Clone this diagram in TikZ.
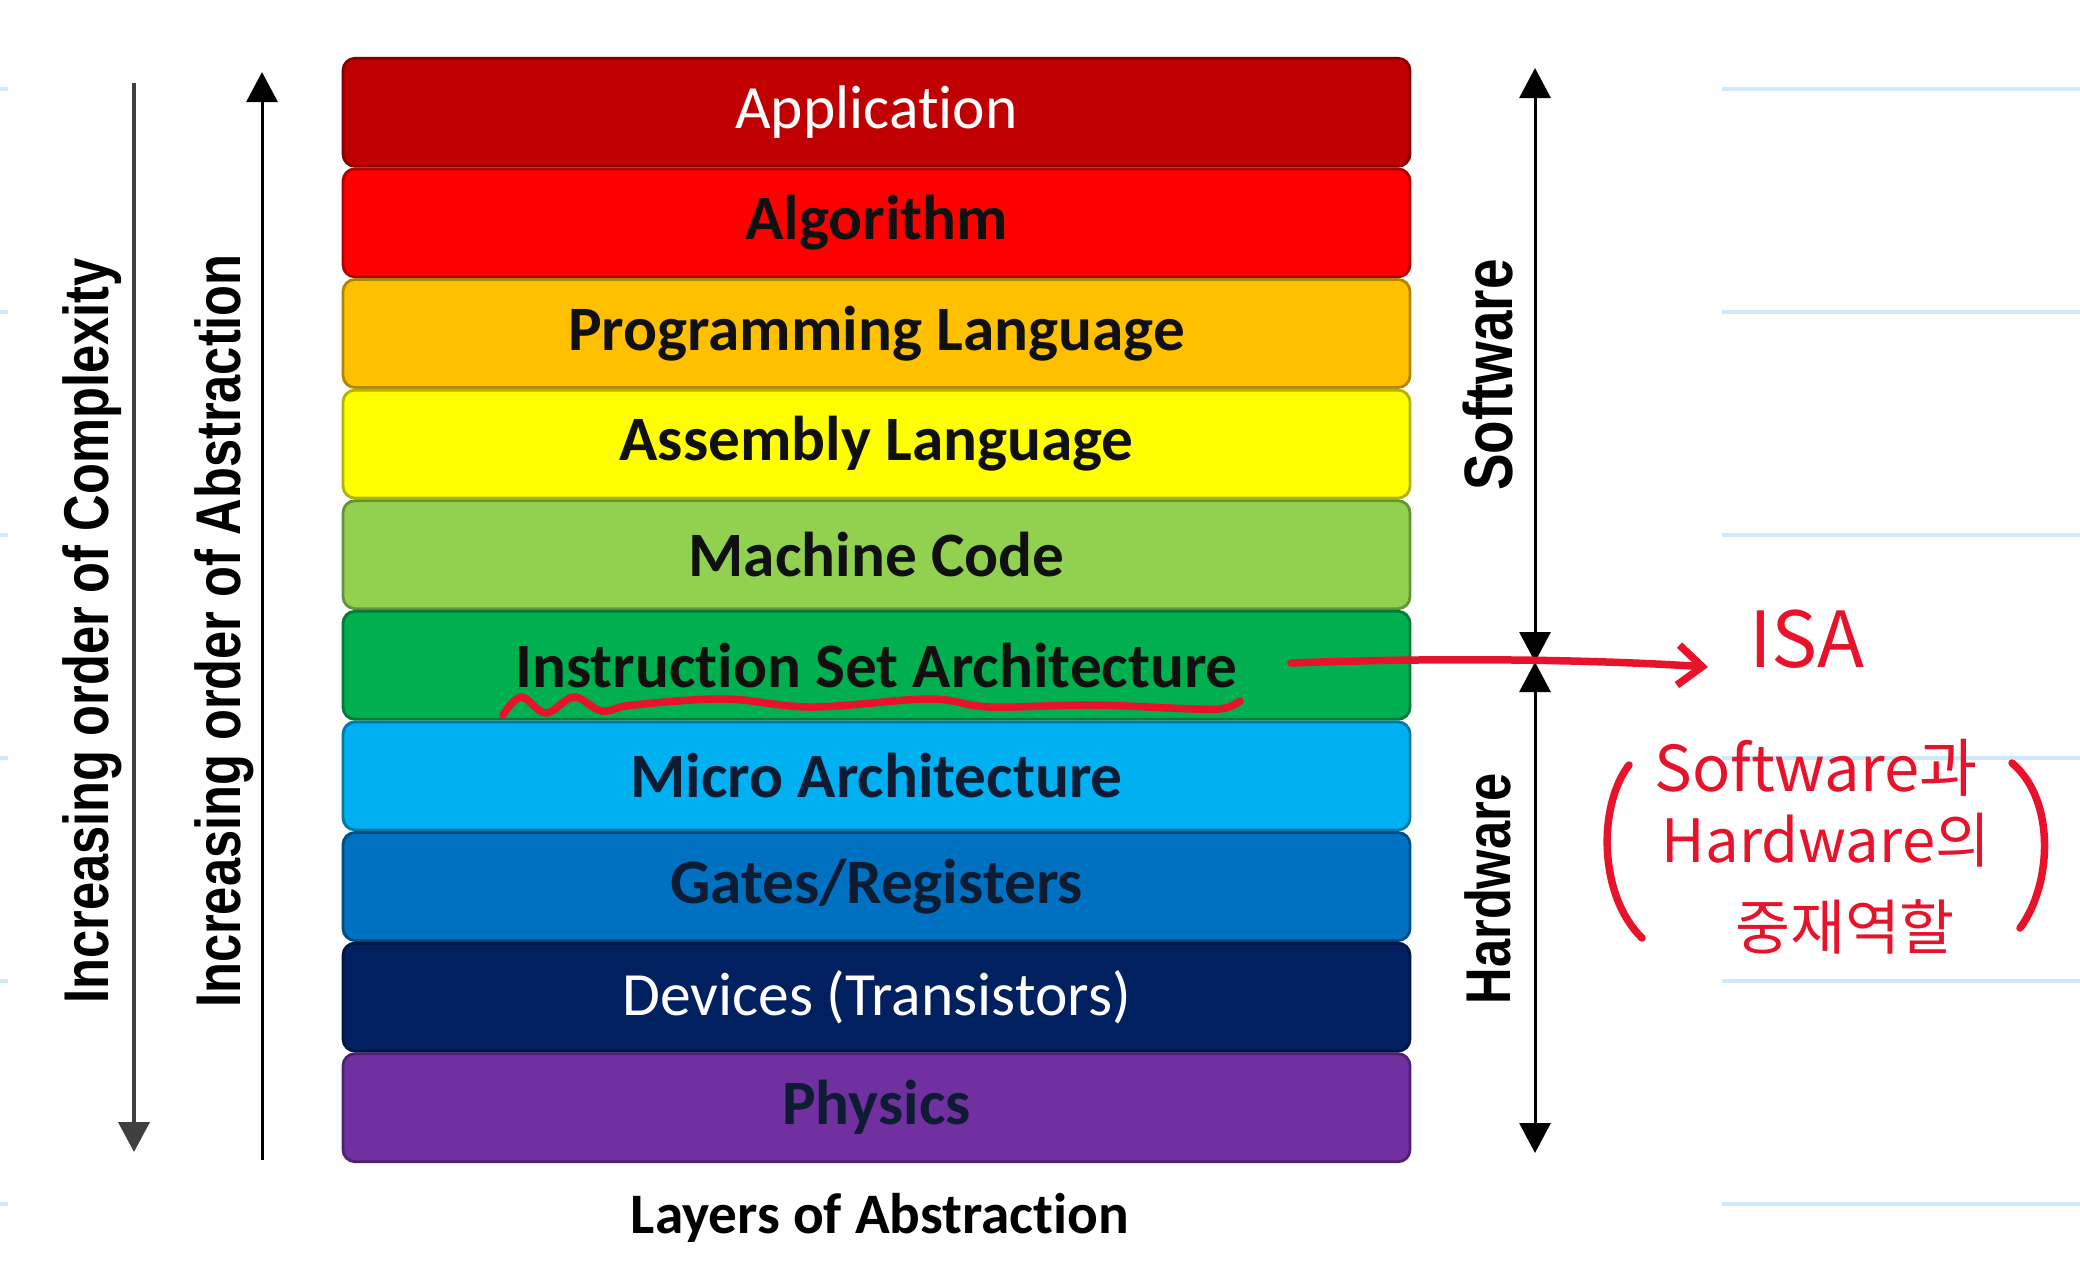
\documentclass[tikz,border=0pt]{standalone}
\usepackage{fontspec}
\usetikzlibrary{arrows.meta}
\newfontfamily\layerfont[Ligatures=NoCommon]{Carlito}
\newfontfamily\sidefont[FakeStretch=0.8]{Liberation Sans}
\newfontfamily\handfont{Noto Sans CJK KR}
\newcommand\boldlayer{\layerfont\bfseries\fontsize{18}{20}\selectfont}
\newcommand\plainlayer{\layerfont\fontsize{17.5}{20}\selectfont}
\definecolor{appred}{HTML}{C00000}
\definecolor{algred}{HTML}{FF0000}
\definecolor{proggold}{HTML}{FFC000}
\definecolor{asmyellow}{HTML}{FFFF00}
\definecolor{machgreen}{HTML}{92D050}
\definecolor{isagreen}{HTML}{00B050}
\definecolor{microblue}{HTML}{00B0F0}
\definecolor{gateblue}{HTML}{0070C0}
\definecolor{devnavy}{HTML}{002060}
\definecolor{physpurple}{HTML}{7030A0}
\definecolor{inkdark}{HTML}{101010}
\definecolor{inknavy}{HTML}{0D1B33}
\definecolor{penred}{HTML}{E8132A}
\definecolor{noteblue}{HTML}{CDE9FA}

\begin{document}
\begin{tikzpicture}[x=0.1mm, y=-0.1mm,
    layer/.style 2 args={draw=#1!70!black, fill=#1, text=#2, line width=0.8pt, rounded corners=1.2mm,
        minimum width=106.7mm, minimum height=10.8mm, inner sep=0pt, font=\boldlayer},
    side/.style={rotate=90, font=\sidefont\bfseries\fontsize{#1}{20}\selectfont},
    side/.default=18,
    sidearr/.style={line width=0.3mm, {Triangle[length=3mm, width=3.1mm]}-{Triangle[length=3mm, width=3.1mm]}},
    pen/.style={draw=penred, line width=0.75mm, line cap=round, line join=round},
    hand/.style={text=penred, inner sep=0pt, font=\handfont\fontsize{#1}{#1}\selectfont},
    noteline/.style={noteblue, line width=0.4mm}
  ]
  \useasboundingbox (0,0) rectangle (2080,1274);

  % note paper lines
  \foreach \y in {89,312,535,758,981,1204} {
    \draw[noteline] (1722,\y) -- (2080,\y);
    \draw[noteline] (0,\y) -- (8,\y);
  }

  % layers
  \node[layer={appred}{white}, font=\plainlayer] (app) at (876.5,112.3) {Application};
  \node[layer={algred}{inkdark}] (algo) at (876.5,222.9) {Algorithm};
  \node[layer={proggold}{inkdark}] (prog) at (876.5,333.5) {Programming Language};
  \node[layer={asmyellow}{inkdark}] (asm) at (876.5,444.1) {Assembly Language};
  \node[layer={machgreen}{inkdark}] (mach) at (876.5,554.7) {Machine Code};
  \node[layer={isagreen}{inkdark}] (isa) at (876.5,665.3) {Instruction Set Architecture};
  \node[layer={microblue}{inknavy}] (micro) at (876.5,775.9) {Micro Architecture};
  \node[layer={gateblue}{inknavy}] (gates) at (876.5,886.5) {Gates/Registers};
  \node[layer={devnavy}{white}, font=\plainlayer] (dev) at (876.5,997.1) {Devices (Transistors)};
  \node[layer={physpurple}{inknavy}] (phys) at (876.5,1107.7) {Physics};
  \node[font=\layerfont\bfseries\fontsize{16.3}{18}\selectfont] (title) at (880,1218) {Layers of Abstraction};

  % left axes
  \coordinate (cplx top) at (134,83);
  \coordinate (cplx bot) at (134,1152);
  \coordinate (abst top) at (262,72);
  \coordinate (abst bot) at (262,1160);
  \draw[line width=0.4mm, black!75, -{Triangle[length=3mm, width=3.1mm]}] (cplx top) -- (cplx bot);
  \draw[line width=0.3mm, -{Triangle[length=3mm, width=3.1mm]}] (abst bot) -- (abst top);
  \node[side] (cplx) at (92,631) {Increasing order of Complexity};
  \node[side] (abst) at (224,631) {Increasing order of Abstraction};

  % right axes
  \coordinate (sw top) at (1535,68);
  \coordinate (split) at (1535,662);
  \coordinate (hw bot) at (1535,1153);
  \draw[sidearr] (sw top) -- (split);
  \draw[sidearr] (split) -- (hw bot);
  \node[side=19.5] (sw) at (1488,375) {Software};
  \node[side] (hw) at (1488,889) {Hardware};

  % handwritten note
  \draw[pen] plot[smooth, tension=0.6] coordinates {(503,715) (521,697) (546,713) (574,697) (602,711)
    (633,705) (725,699) (812,707) (929,699) (990,707) (1092,705) (1194,709) (1225,708) (1240,701)};
  \coordinate (isa from) at (1291,663);
  \coordinate (isa to) at (1708,667);
  \draw[pen, -{Straight Barb[length=2.4mm, width=4mm]}] (isa from) .. controls (1450,657) and (1600,660) .. (isa to);
  \node[hand=22] (isatxt) at (1807,639) {ISA};
  \node[hand=18] (note1) at (1816,768) {Software과};
  \node[hand=17] (note2) at (1826,840) {Hardware의};
  \node[hand=17] (note3) at (1845,927) {중재역할};
  \draw[pen] (1629,765) .. controls (1598,805) and (1598,895) .. (1642,938);
  \draw[pen] (2012,763) .. controls (2056,800) and (2052,885) .. (2020,928);
\end{tikzpicture}
\end{document}
